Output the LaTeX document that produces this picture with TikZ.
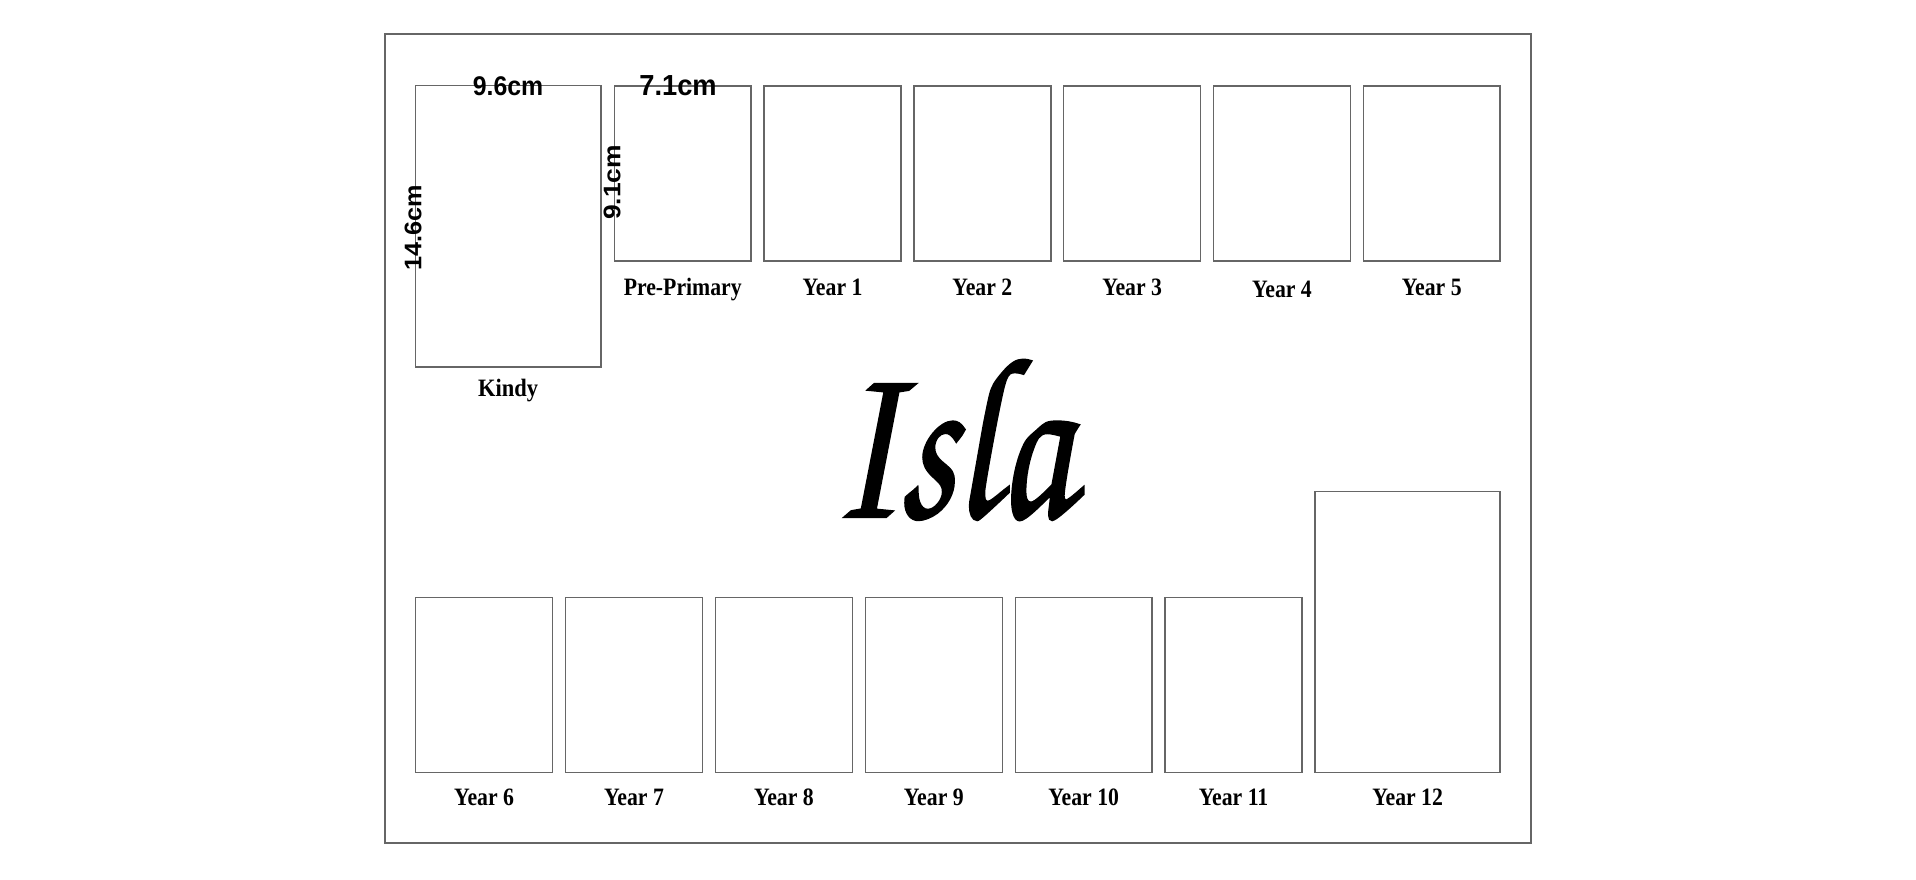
\documentclass[tikz,border=0pt]{standalone}
\usepackage{graphicx}
\usepackage{fontspec}
\setmainfont{Liberation Serif}
\newfontfamily\dimfont{Liberation Sans}
\newfontfamily\islafont[FakeBold=1.2]{texgyrechorus-mediumitalic.otf}
\newcommand\sqz[2]{\scalebox{#1}[1]{#2}}
\begin{document}
\begin{tikzpicture}[x=0.5pt,y=-0.5pt,
  frame/.style={draw=black!60,line width=0.75pt,rectangle,inner sep=0pt,outer sep=0pt},
  bigbox/.style={frame,minimum width=92.6pt,minimum height=140.65pt},
  smallbox/.style={frame,minimum width=68.45pt,minimum height=87.65pt},
  lbl/.style={anchor=base,inner sep=0pt,font=\fontsize{12.5}{12.5}\selectfont\bfseries},
  dim/.style={inner sep=0pt,font=\fontsize{13.5}{13.5}\selectfont\dimfont\bfseries},
  vdim/.style={dim,rotate=90,font=\fontsize{12}{12}\selectfont\dimfont\bfseries}]
\useasboundingbox (0,0) rectangle (1916,879);
\node[frame,minimum width=573pt,minimum height=404.5pt] (board) at (958,438.5) {};
% top row
\node[bigbox] (kindy) at (508.2,226.3) {};
\node[smallbox] (pp) at (682.75,173.4) {};
\node[smallbox] (y1) at (832.55,173.4) {};
\node[smallbox] (y2) at (982.35,173.4) {};
\node[smallbox] (y3) at (1132.15,173.4) {};
\node[smallbox] (y4) at (1281.95,173.4) {};
\node[smallbox] (y5) at (1431.75,173.4) {};
% bottom row
\node[smallbox] (y6) at (484.1,685) {};
\node[smallbox] (y7) at (634.0,685) {};
\node[smallbox] (y8) at (783.9,685) {};
\node[smallbox] (y9) at (933.8,685) {};
\node[smallbox] (y10) at (1083.7,685) {};
\node[smallbox] (y11) at (1233.6,685) {};
\node[bigbox] (y12) at (1407.6,632) {};
% labels
\node[lbl] (kindyL) at (508.2,396) {\sqz{0.9}{Kindy}};
\node[lbl] (ppL) at (682.75,295) {\sqz{0.87}{Pre-Primary}};
\node[lbl] (y1L) at (832.55,295) {\sqz{0.87}{Year 1}};
\node[lbl] (y2L) at (982.35,295) {\sqz{0.87}{Year 2}};
\node[lbl] (y3L) at (1132.15,295) {\sqz{0.87}{Year 3}};
\node[lbl] (y4L) at (1281.95,297) {\sqz{0.87}{Year 4}};
\node[lbl] (y5L) at (1431.75,295) {\sqz{0.87}{Year 5}};
\node[lbl] (y6L) at (484.1,805) {\sqz{0.87}{Year 6}};
\node[lbl] (y7L) at (634.0,805) {\sqz{0.87}{Year 7}};
\node[lbl] (y8L) at (783.9,805) {\sqz{0.87}{Year 8}};
\node[lbl] (y9L) at (933.8,805) {\sqz{0.87}{Year 9}};
\node[lbl] (y10L) at (1083.7,805) {\sqz{0.87}{Year 10}};
\node[lbl] (y11L) at (1233.6,805) {\sqz{0.87}{Year 11}};
\node[lbl] (y12L) at (1407.6,805) {\sqz{0.87}{Year 12}};
% dimensions
\node[dim] (d96) at (508,86.5) {\sqz{0.92}{9.6cm}};
\node[dim,font=\fontsize{14.5}{14.5}\selectfont\dimfont\bfseries] (d71) at (678,86) {\sqz{0.94}{7.1cm}};
\node[vdim] (d146) at (413,227.5) {\sqz{1.05}{14.6cm}};
\node[vdim] (d91) at (612,182.5) {\sqz{1.1}{9.1cm}};
% name
\node[inner sep=0pt] (isla) at (951,440) {\resizebox*{120pt}{80pt}{\islafont Isla}};
\end{tikzpicture}
\end{document}
